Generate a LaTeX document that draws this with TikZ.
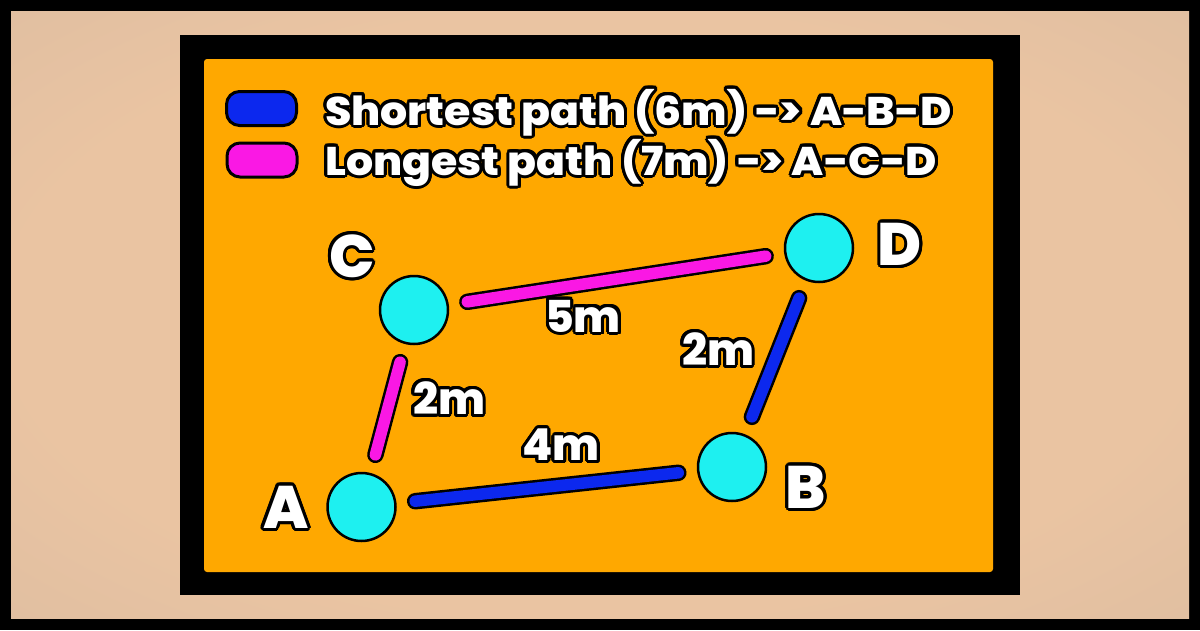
\documentclass[tikz,border=0pt]{standalone}
\usepackage{fontspec}
\newfontfamily\pop{Poppins}[BoldFont={* ExtraBold}]
\usetikzlibrary{calc}
\definecolor{bgin}{RGB}{234,196,162}
\definecolor{bgmid}{RGB}{212,184,160}
\definecolor{bgout}{RGB}{172,166,160}
\definecolor{orng}{RGB}{255,168,0}
\definecolor{pblue}{RGB}{12,40,238}
\definecolor{ppink}{RGB}{250,24,228}
\definecolor{pcyan}{RGB}{30,240,240}
\pgfdeclareradialshading{vign}{\pgfpoint{0bp}{0bp}}{color(0bp)=(bgin); color(25bp)=(bgin); color(50bp)=(bgmid); color(71bp)=(bgout)}
\newcommand\otext[4]{%
  \foreach \ang in {0,15,...,345}{\node[#3,text=black] at ($(#2)+(\ang:3)$) {#4};}
  \node[#3,text=white] (#1) at (#2) {#4};}
\begin{document}
\begin{tikzpicture}[x=1pt,y=-1pt,
  vertex/.style={circle,draw=black,line width=2.5pt,fill=pcyan,minimum size=68pt,inner sep=0pt,outer sep=0pt},
  edgeout/.style={line width=16.5pt,line cap=round,draw=black,shorten <=20pt,shorten >=20pt},
  edgein/.style={line width=11.5pt,line cap=round,shorten <=20pt,shorten >=20pt},
  pill/.style={rectangle,rounded corners=13pt,draw=black,line width=3pt,minimum width=70pt,minimum height=34pt,inner sep=0pt},
  legtext/.style={anchor=base west,inner sep=0pt,font=\pop\bfseries\fontsize{40}{42}\selectfont},
  vlabel/.style={inner sep=0pt,font=\pop\bfseries\fontsize{60}{62}\selectfont},
  dlabel/.style={inner sep=0pt,font=\pop\bfseries\fontsize{44}{46}\selectfont}
]
\useasboundingbox (0,0) rectangle (1200,630);
\fill[black] (0,0) rectangle (1200,630);
\shade[shading=vign] (11,11) rectangle (1189,618);
\fill[black] (180,35) rectangle (1020,595);
\fill[orng,rounded corners=3pt] (204,59) rectangle (993,572);

% legend
\node[pill,fill=pblue] (legS) at (261.5,108.5) {};
\node[pill,fill=ppink] (legL) at (262,160) {};
\otext{txtS}{325,125}{legtext}{\scalebox{1.065}[1]{Shortest path (6m) -> A-B-D}}
\otext{txtL}{325,175}{legtext}{\scalebox{1.065}[1]{Longest path (7m) -> A-C-D}}

% vertices
\node[vertex] (A) at (361.5,507) {};
\node[vertex] (B) at (732,467) {};
\node[vertex] (C) at (414,310) {};
\node[vertex] (D) at (819,248) {};

% edges
\draw[edgeout] (A) -- (C);
\draw[edgeout] (C) -- (D);
\draw[edgeout] (A) -- (B);
\draw[edgeout] (B) -- (D);
\draw[edgein,ppink] (A) -- (C);
\draw[edgein,ppink] (C) -- (D);
\draw[edgein,pblue] (A) -- (B);
\draw[edgein,pblue] (B) -- (D);

% vertex labels
\otext{labA}{286,507}{vlabel}{A}
\otext{labB}{806,487}{vlabel}{B}
\otext{labC}{352,256}{vlabel}{C}
\otext{labD}{900,244}{vlabel}{D}

% distance labels
\otext{d5}{583,316}{dlabel}{5m}
\otext{d2r}{718,349}{dlabel}{2m}
\otext{d2l}{449,398}{dlabel}{2m}
\otext{d4}{561,445}{dlabel}{4m}
\end{tikzpicture}
\end{document}
